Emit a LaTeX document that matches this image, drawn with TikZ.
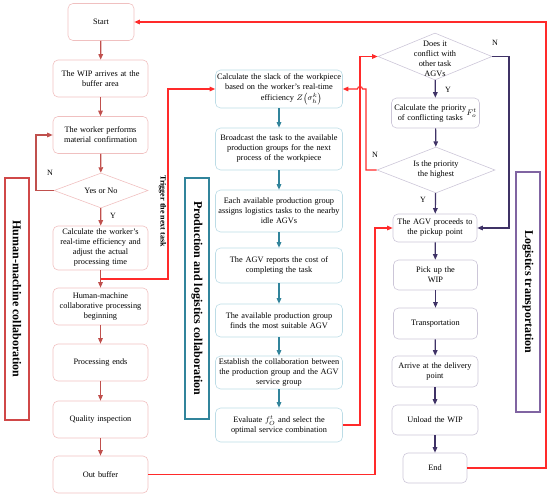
\documentclass[tikz,border=0pt]{standalone}
\usepackage{fontspec}
\setmainfont{Liberation Serif}
\usetikzlibrary{shapes.geometric,arrows.meta}
\definecolor{lboxc}{HTML}{F0C0C0}
\definecolor{larrc}{HTML}{C0504D}
\definecolor{mboxc}{HTML}{BCDCE6}
\definecolor{marrc}{HTML}{31849B}
\definecolor{rboxc}{HTML}{CCC6D8}
\definecolor{rarrc}{HTML}{3F3266}
\definecolor{redl}{HTML}{FF2A2A}
\definecolor{lgrpc}{HTML}{D04848}
\definecolor{pgrpc}{HTML}{8064A2}
\begin{document}
\begin{tikzpicture}[x=1pt,y=-1pt,
  box/.style={draw, rounded corners=5pt, align=center, font=\fontsize{8.3}{10}\selectfont, inner sep=1pt, line width=0.6pt},
  lb/.style={box, draw=lboxc, minimum width=95pt, text width=92pt, minimum height=37pt},
  mb/.style={box, draw=mboxc, minimum width=127pt, text width=124pt},
  rb/.style={box, draw=rboxc, minimum width=84pt, text width=82pt},
  dia/.style={diamond, draw, inner sep=0pt, line width=0.6pt},
  txt/.style={align=center, font=\fontsize{8.3}{10}\selectfont, inner sep=0pt},
  lbl/.style={font=\fontsize{8}{9}\selectfont, inner sep=0pt},
  grp/.style={draw, rotate=-90, line width=1.4pt, minimum height=24pt, inner sep=0pt, font=\fontsize{12}{14}\bfseries\selectfont},
  tip/.style={-{Triangle[length=5.5pt,width=4.5pt]}},
  la/.style={tip, draw=larrc, line width=1.2pt},
  ma/.style={tip, draw=marrc, line width=1.2pt},
  pa/.style={tip, draw=rarrc, line width=1.2pt},
  ra/.style={tip, draw=redl, line width=1.1pt}
]
\useasboundingbox (0,0) rectangle (550,496);
% left column
\node[lb, minimum width=66pt, text width=60pt] (start) at (101,22) {Start};
\node[lb] (wip) at (100.5,78.5) {The WIP arrives at the\\buffer area};
\node[lb] (worker) at (100.5,135) {The worker performs\\material confirmation};
\node[dia, draw=lboxc, minimum width=94pt, minimum height=35pt, aspect=2.7] (d1) at (101,190.5) {};
\node[txt] (d1t) at (d1.center) {Yes or No};
\node[lb, minimum height=44pt] (calcw) at (100.5,248) {Calculate the worker's\\real-time efficiency and\\adjust the actual\\processing time};
\node[lb] (hm) at (100.5,306.5) {Human-machine\\collaborative processing\\beginning};
\node[lb] (pe) at (100.5,362.5) {Processing ends};
\node[lb] (qi) at (100.5,419.5) {Quality inspection};
\node[lb] (ob) at (100.5,474.5) {Out buffer};
% middle column
\node[mb, minimum height=38pt] (cs) at (279,89) {Calculate the slack of the workpiece\\based on the worker's real-time\\[1.5pt]\hspace*{3em}efficiency $Z\big(\sigma_h^k\big)$};
\node[mb, minimum height=42pt] (bc) at (279,149) {Broadcast the task to the available\\production groups for the next\\process of the workpiece};
\node[mb, minimum height=42pt] (ea) at (279,211) {Each available production group\\assigns logistics tasks to the nearby\\idle AGVs};
\node[mb, minimum height=35pt] (ar) at (279,265.5) {The AGV reports the cost of\\completing the task};
\node[mb, minimum height=33pt] (fs) at (279,320.5) {The available production group\\finds the most suitable AGV};
\node[mb, minimum height=33pt] (es) at (279,372.5) {Establish the collaboration between\\the production group and the AGV\\service group};
\node[mb, minimum height=34pt] (ev) at (279,425) {Evaluate $f_O^t$ and select the\\optimal service combination};
% right column
\node[dia, draw=rboxc, minimum width=114pt, minimum height=47pt, aspect=2.4] (conf) at (435,56.5) {};
\node[txt] (conft) at (435,59) {Does it\\conflict with\\other task\\AGVs};
\node[rb, minimum height=30pt, text width=86pt] (cp) at (435.5,113) {\begin{tabular}{@{}c@{}}Calculate the priority\\of conflicting tasks\end{tabular}\hspace{0.5pt}$F_o^t$};
\node[dia, draw=rboxc, minimum width=118pt, minimum height=46pt, aspect=2.6] (ip) at (436,170) {};
\node[txt] (ipt) at (ip.center) {Is the priority\\the highest};
\node[rb, minimum height=28pt] (ap) at (435,228) {The AGV proceeds to\\the pickup point};
\node[rb, minimum width=83pt, minimum height=30pt] (pk) at (435.5,275) {Pick up the\\WIP};
\node[rb, minimum width=83pt, minimum height=31pt] (tr) at (435.5,323.5) {Transportation};
\node[rb, minimum width=86pt, minimum height=31pt] (ad) at (435,371.5) {Arrive at the delivery\\point};
\node[rb, minimum width=86pt, minimum height=30pt] (ul) at (435,420) {Unload the WIP};
\node[rb, minimum width=64pt, text width=60pt, minimum height=30pt] (en) at (435,468) {End};
% group labels
\node[grp, draw=lgrpc, minimum width=242pt] (g1) at (17,299) {Human-machine collaboration};
\node[grp, draw=marrc, minimum width=241pt] (g2) at (197,298.5) {Production and logistics collaboration};
\node[grp, draw=pgrpc, minimum width=240pt] (g3) at (528,292) {Logistics transportation};
% left arrows
\draw[la] (start) -- (wip);
\draw[la] (wip) -- (worker);
\draw[la] (worker) -- (d1);
\draw[la] (d1) -- (calcw);
\draw[la] (calcw) -- (hm);
\draw[la] (hm) -- (pe);
\draw[la] (pe) -- (qi);
\draw[la] (qi) -- (ob);
\coordinate (nl) at (36,190.5);
\draw[la] (d1.west) -- (nl) |- (worker.west);
\node[lbl] (ln) at (50,173) {N};
\node[lbl] (ly) at (113,216) {Y};
% middle arrows
\draw[ma] (cs) -- (bc);
\draw[ma] (bc) -- (ea);
\draw[ma] (ea) -- (ar);
\draw[ma] (ar) -- (fs);
\draw[ma] (fs) -- (es);
\draw[ma] (es) -- (ev);
% right arrows
\draw[pa] (conf) -- (cp);
\draw[pa] (cp) -- (ip);
\draw[pa] (ip) -- (ap);
\draw[pa] (ap) -- (pk);
\draw[pa] (pk) -- (tr);
\draw[pa] (tr) -- (ad);
\draw[pa] (ad) -- (ul);
\draw[pa] (ul) -- (en);
\coordinate (c1) at (509,56.5);
\draw[pa] (conf.east) -- (c1) |- (ap.east);
\node[lbl] (rn1) at (495,43) {N};
\node[lbl] (ry1) at (448,90) {Y};
\node[lbl] (rn2) at (375,155) {N};
\node[lbl] (ry2) at (423,200) {Y};
% red connectors
\coordinate (t0) at (100.5,279);
\coordinate (t1) at (168,279);
\draw[ra] (t0) -- (t1) |- (cs.west);
\node[lbl, rotate=-90, font=\fontsize{8}{9}\bfseries\selectfont] (trg) at (162.5,211) {Trigger the next task};
\coordinate (e1) at (360,425);
\draw[ra] (ev.east) -- (e1) |- (conf.west);
\coordinate (n1) at (366,170);
\coordinate (hop) at (362.5,89);
\draw[ra] (ip.west) -- (n1) |- (hop) arc[start angle=0, end angle=-180, radius=2.5] -- (cs.east);
\coordinate (o1) at (375,474.5);
\draw[ra] (ob.east) -- (o1) |- (ap.west);
\coordinate (z1) at (546,468);
\draw[ra] (en.east) -- (z1) |- (start.east);
\end{tikzpicture}
\end{document}
